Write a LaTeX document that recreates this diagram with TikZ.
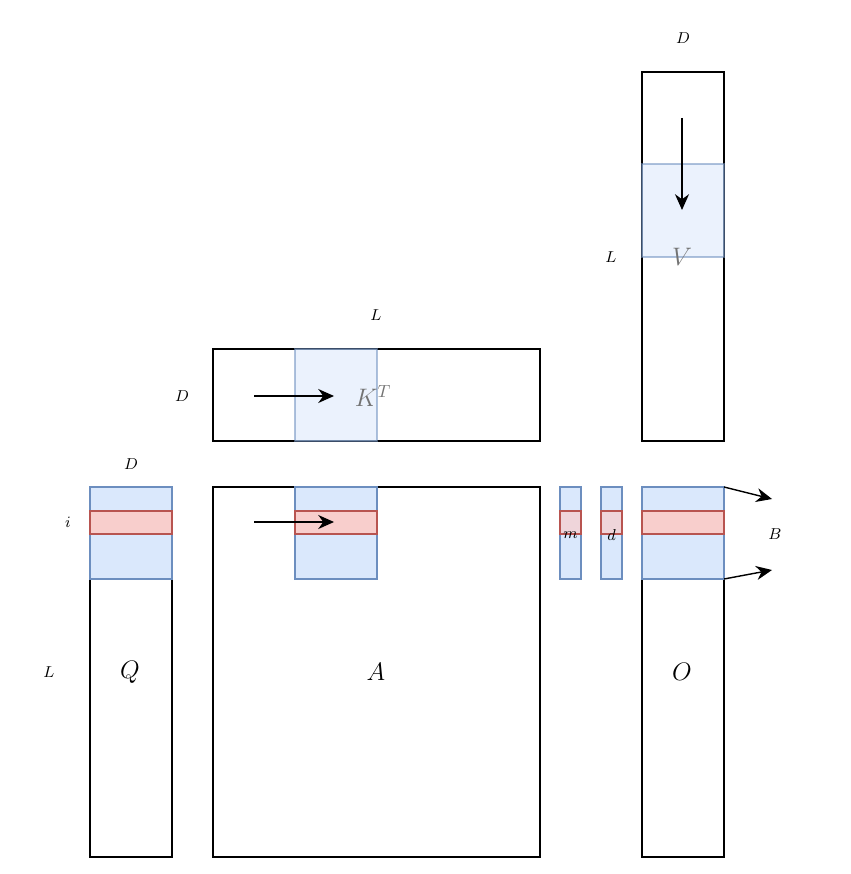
\documentclass[tikz,border=0pt]{standalone}
\usepackage{tikz}
\usetikzlibrary{arrows.meta, positioning, calc}
\definecolor{bfill}{HTML}{DAE8FC}
\definecolor{bdraw}{HTML}{6C8EBF}
\definecolor{rfill}{HTML}{F8CECC}
\definecolor{rdraw}{HTML}{B85450}
\begin{document}
\begin{tikzpicture}[
        x=0.02cm, y=-0.02cm,
        thick,
        mat/.style = {draw=black, line width=0.8pt},
        blk/.style = {draw=bdraw, fill=bfill, line width=0.8pt},
        ghost/.style = {blk, opacity=0.55},
        row/.style = {draw=rdraw, fill=rfill, line width=0.8pt},
        lbl/.style = {font=\small},
        big/.style = {font=\Large},
        flow/.style = {-{Stealth[length=9pt,width=8pt]}, line width=0.8pt}
    ]
    \useasboundingbox (0,0) rectangle (850,874);

    % Q
    \draw[mat] (90,487) rectangle (172,857);
    \draw[blk] (90,487) rectangle (172,579);
    \draw[row] (90,511) rectangle (172,534);
    \node[big] (q) at (130,672) {$Q$};
    \node[lbl] (ql) at (49,672) {$L$};
    \node[lbl] (qd) at (131,464) {$D$};
    \node[lbl] (qi) at (68,522) {$i$};

    % A
    \draw[mat] (213,487) rectangle (540,857);
    \draw[blk] (295,487) rectangle (377,579);
    \draw[row] (295,511) rectangle (377,534);
    \coordinate (a0) at (254,522);
    \coordinate (a1) at (334,522);
    \draw[flow] (a0) -- (a1);
    \node[big] (a) at (376,672) {$A$};

    % K^T
    \draw[mat] (213,349) rectangle (540,441);
    \draw[ghost] (295,349) rectangle (377,441);
    \coordinate (k0) at (254,396);
    \coordinate (k1) at (334,396);
    \draw[flow] (k0) -- (k1);
    \node[big, text=black!55] (k) at (373,396) {$K^T$};
    \node[lbl] (kd) at (182,396) {$D$};
    \node[lbl] (kl) at (376,315) {$L$};

    % V
    \draw[mat] (642,72) rectangle (724,441);
    \draw[ghost] (642,164) rectangle (724,257);
    \coordinate (v0) at (682,118);
    \coordinate (v1) at (682,210);
    \draw[flow] (v0) -- (v1);
    \node[big, text=black!55] (v) at (682,257) {$V$};
    \node[lbl] (vl) at (611,257) {$L$};
    \node[lbl] (vd) at (683,38) {$D$};

    % m and d
    \foreach \x/\t in {560/m, 601/d} {
        \draw[blk] (\x,487) rectangle ++(21,92);
        \draw[row, fill opacity=0.7] (\x,511) rectangle ++(21,23);
        \node[lbl] at (\x+10.5,535) {$\t$};
    }

    % O
    \draw[mat] (642,487) rectangle (724,857);
    \draw[blk] (642,487) rectangle (724,579);
    \draw[row] (642,511) rectangle (724,534);
    \node[big] (o) at (682,672) {$O$};
    \coordinate (o0) at (724,487);
    \coordinate (o1) at (772,499);
    \coordinate (o2) at (724,579);
    \coordinate (o3) at (772,570);
    \draw[flow] (o0) -- (o1);
    \draw[flow] (o2) -- (o3);
    \node[lbl] (ob) at (775,534) {$B$};
\end{tikzpicture}
\end{document}
